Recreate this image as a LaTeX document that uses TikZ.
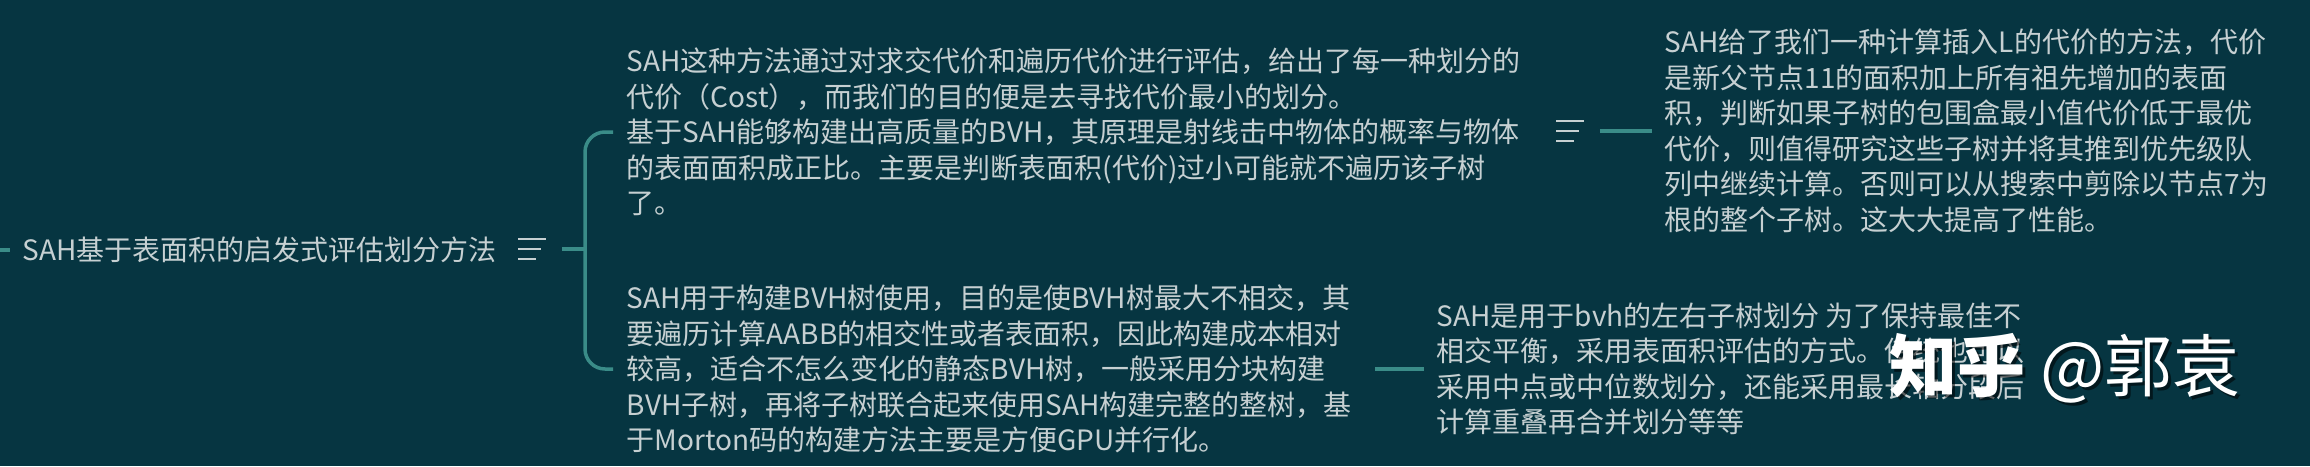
\documentclass[tikz,border=0pt]{standalone}
\usepackage{fontspec}
\setmainfont{Noto Sans CJK SC}

\definecolor{bgteal}{RGB}{6,53,65}
\definecolor{linkteal}{RGB}{58,140,136}
\definecolor{notegray}{RGB}{198,208,210}

\tikzset{every picture/.style={line width=3.5pt}}

% three bars of the note icon
\newcommand{\noteicon}[1]{%
  \draw[iconbar] (#1.north west) -- (#1.north east)
    (#1.west) -- ([xshift=-5pt]#1.east)
    (#1.south west) -- ([xshift=-10pt]#1.south east);}

\begin{document}
\begin{tikzpicture}[x=1pt,y=1pt,yscale=-1,xscale=1,
  topic/.style={anchor=west,inner sep=0pt,text=notegray,font=\fontsize{28}{34}\selectfont},
  note/.style={anchor=west,inner sep=0pt,align=left,text=notegray,font=\fontsize{28}{35.5}\selectfont},
  branch/.style={draw=linkteal,line width=3.5pt},
  iconbox/.style={minimum width=24pt,minimum height=17pt,inner sep=0pt},
  iconbar/.style={draw=notegray,line width=2.2pt},
  wmark/.style={font=\fontsize{68}{70}\selectfont,inner sep=0pt}]

\path[use as bounding box,fill=bgteal] (0,0) rectangle (2310,466);

% Root
\node[topic] (root) at (21,250) {SAH基于表面积的启发式评估划分方法};
\node[iconbox] (ricon) at (532,249) {};
\noteicon{ricon}

% Middle notes
\node[note] (upmid) at (625,132) {SAH这种方法通过对求交代价和遍历代价进行评估，给出了每一种划分的\\
代价（Cost），而我们的目的便是去寻找代价最小的划分。\\
基于SAH能够构建出高质量的BVH，其原理是射线击中物体的概率与物体\\
的表面面积成正比。主要是判断表面积(代价)过小可能就不遍历该子树\\
了。};
\node[iconbox] (uicon) at (1570,131) {};
\noteicon{uicon}

\node[note] (lowmid) at (625,369) {SAH用于构建BVH树使用，目的是使BVH树最大不相交，其\\
要遍历计算AABB的相交性或者表面积，因此构建成本相对\\
较高，适合不怎么变化的静态BVH树，一般采用分块构建\\
BVH子树，再将子树联合起来使用SAH构建完整的整树，基\\
于Morton码的构建方法主要是方便GPU并行化。};

% Right notes
\node[note] (topright) at (1663,131) {SAH给了我们一种计算插入L的代价的方法，代价\\
是新父节点11的面积加上所有祖先增加的表面\\
积，判断如果子树的包围盒最小值代价低于最优\\
代价，则值得研究这些子树并将其推到优先级队\\
列中继续计算。否则可以从搜索中剪除以节点7为\\
根的整个子树。这大大提高了性能。};

\node[note] (botright) at (1435,369) {SAH是用于bvh的左右子树划分 为了保持最佳不\\
相交平衡，采用表面积评估的方式。传统也可以\\
采用中点或中位数划分，还能采用最长轴分段后\\
计算重叠再合并划分等等};

% Connectors
\coordinate (lstub) at (0,250);
\coordinate (fork) at (585,249);
\draw[branch] (lstub) -- ([xshift=-11pt]root.west);
\draw[branch] ([xshift=16pt]ricon.east) -- (fork);
\draw[branch,rounded corners=20pt] ([xshift=-12pt]upmid.west) -| (fork) |- ([xshift=-12pt]lowmid.west);
\draw[branch] ([xshift=16pt]uicon.east) -- ([xshift=-11pt]topright.west);
\draw[branch] ([xshift=22pt]lowmid.east) -- ([xshift=-11pt]botright.west);

% Watermark
\node[wmark,text=black,opacity=0.55] (wshadow) at (2068,371) {\bfseries 知乎 \mdseries @郭袁};
\node[wmark,text=white] (wtext) at (2065,368) {\bfseries 知乎 \mdseries @郭袁};

\end{tikzpicture}
\end{document}
